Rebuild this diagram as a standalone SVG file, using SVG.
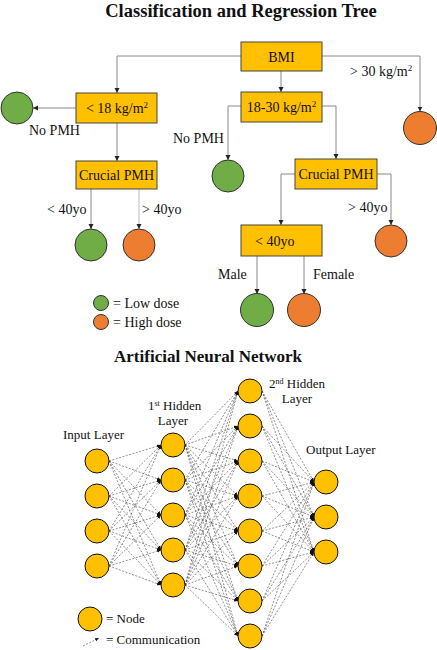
<svg xmlns="http://www.w3.org/2000/svg" width="437" height="650" viewBox="0 0 437 650">
<defs>
<style>
text{font-family:"Liberation Serif","Times New Roman",serif;fill:#111}
.title{font-size:18.5px;font-weight:bold;text-anchor:middle}
.t2{font-size:17px;font-weight:bold;text-anchor:middle}
.lbl{font-size:14px}
.al{font-size:13px}
.mid{text-anchor:middle}
.box{fill:#FFC000;stroke:#444;stroke-width:1}
.green{fill:#70AD47;stroke:#333;stroke-width:1}
.orange{fill:#ED7D31;stroke:#333;stroke-width:1}
.node{fill:#FFC000;stroke:#111;stroke-width:1}
.tc{fill:none;stroke:#888;stroke-width:1;marker-end:url(#ah)}
.ac line{stroke:#444;stroke-width:0.6;stroke-dasharray:2 1.5;marker-end:url(#sa)}
</style>
<marker id="ah" markerUnits="userSpaceOnUse" markerWidth="6" markerHeight="6" refX="5" refY="3" orient="auto"><path d="M0,0.5 L5,3 L0,5.5 z" fill="#222"/></marker>
<marker id="sa" markerUnits="userSpaceOnUse" markerWidth="5" markerHeight="5" refX="4" refY="2" orient="auto"><path d="M0,0.4 L4,2 L0,3.6 z" fill="#111"/></marker>
</defs>
<rect width="437" height="650" fill="#fff"/>
<text class="title" x="241" y="17">Classification and Regression Tree</text>

<g id="tree-connectors">
<path class="tc" d="M241,56 H117 V93"/>
<path class="tc" d="M281,71 V92"/>
<path class="tc" d="M322,56 H420 V111.5"/>
<path class="tc" d="M76,108 H33"/>
<path class="tc" d="M117,123 V161"/>
<path class="tc" d="M241,106 H228 V160"/>
<path class="tc" d="M322,106 H336 V159"/>
<path class="tc" d="M91,189 V229"/>
<path class="tc" d="M139,189 V229" style="stroke:#bbb"/>
<path class="tc" d="M295,174 H281 V225"/>
<path class="tc" d="M377,174 H391 V225"/>
<path class="tc" d="M257,256 V294"/>
<path class="tc" d="M304,256 V294"/>
</g>

<g id="bmi"><rect class="box" x="241" y="42" width="81" height="29"/><text class="lbl mid" x="281.5" y="61.5">BMI</text></g>
<g id="lt18"><rect class="box" x="76" y="93" width="81" height="30"/><text class="lbl mid" x="117" y="113">&lt; 18 kg/m<tspan dy="-5" font-size="9">2</tspan></text></g>
<g id="b1830"><rect class="box" x="241" y="92" width="81" height="30"/><text class="lbl mid" x="281.5" y="111.5">18-30 kg/m<tspan dy="-5" font-size="9">2</tspan></text></g>
<g id="gt30"><text class="lbl" x="350" y="76">&gt; 30 kg/m<tspan dy="-5" font-size="9">2</tspan></text><circle class="orange" cx="420" cy="128" r="16.5"/></g>
<g id="nopmh1"><circle class="green" cx="17" cy="108" r="16"/><text class="lbl" x="29" y="135">No PMH</text></g>
<g id="nopmh2"><circle class="green" cx="228" cy="176" r="16"/><text class="lbl" x="173" y="143">No PMH</text></g>
<g id="crucial1"><rect class="box" x="76" y="161" width="81" height="28"/><text class="lbl mid" x="116.5" y="180">Crucial PMH</text></g>
<g id="crucial2"><rect class="box" x="295" y="159" width="82" height="30"/><text class="lbl mid" x="336" y="179">Crucial PMH</text></g>
<g id="l1-lt40"><text class="lbl" x="47" y="214">&lt; 40yo</text><circle class="green" cx="91" cy="245" r="16"/></g>
<g id="l1-gt40"><text class="lbl" x="142" y="214">&gt; 40yo</text><circle class="orange" cx="139" cy="245" r="16"/></g>
<g id="lt40box"><rect class="box" x="241" y="225" width="81" height="31"/><text class="lbl" x="255" y="246">&lt; 40yo</text></g>
<g id="r-gt40"><text class="lbl" x="348" y="212">&gt; 40yo</text><circle class="orange" cx="391" cy="241" r="16"/></g>
<g id="male"><text class="lbl" x="218" y="279">Male</text><circle class="green" cx="257" cy="310" r="16.5"/></g>
<g id="female"><text class="lbl" x="313" y="279">Female</text><circle class="orange" cx="304" cy="310" r="16.5"/></g>
<g id="legend-tree">
<circle class="green" cx="101" cy="303" r="7.5"/><text class="lbl" x="113" y="308">= Low dose</text>
<circle class="orange" cx="101" cy="322" r="7.5"/><text class="lbl" x="113" y="327">= High dose</text>
</g>

<text class="t2" x="208" y="362">Artificial Neural Network</text>

<g id="ann-connectors" class="ac">
<line x1="109" y1="461" x2="161" y2="445"/><line x1="109" y1="461" x2="161" y2="480"/><line x1="109" y1="461" x2="161" y2="515"/><line x1="109" y1="461" x2="161" y2="550"/><line x1="109" y1="461" x2="161" y2="585"/>
<line x1="109" y1="496" x2="161" y2="445"/><line x1="109" y1="496" x2="161" y2="480"/><line x1="109" y1="496" x2="161" y2="515"/><line x1="109" y1="496" x2="161" y2="550"/><line x1="109" y1="496" x2="161" y2="585"/>
<line x1="109" y1="531" x2="161" y2="445"/><line x1="109" y1="531" x2="161" y2="480"/><line x1="109" y1="531" x2="161" y2="515"/><line x1="109" y1="531" x2="161" y2="550"/><line x1="109" y1="531" x2="161" y2="585"/>
<line x1="109" y1="566" x2="161" y2="445"/><line x1="109" y1="566" x2="161" y2="480"/><line x1="109" y1="566" x2="161" y2="515"/><line x1="109" y1="566" x2="161" y2="550"/><line x1="109" y1="566" x2="161" y2="585"/>

<line x1="185" y1="445" x2="238" y2="391"/><line x1="185" y1="445" x2="238" y2="426"/><line x1="185" y1="445" x2="238" y2="461"/><line x1="185" y1="445" x2="238" y2="496"/><line x1="185" y1="445" x2="238" y2="531"/><line x1="185" y1="445" x2="238" y2="566"/><line x1="185" y1="445" x2="238" y2="601"/><line x1="185" y1="445" x2="238" y2="636"/>
<line x1="185" y1="480" x2="238" y2="391"/><line x1="185" y1="480" x2="238" y2="426"/><line x1="185" y1="480" x2="238" y2="461"/><line x1="185" y1="480" x2="238" y2="496"/><line x1="185" y1="480" x2="238" y2="531"/><line x1="185" y1="480" x2="238" y2="566"/><line x1="185" y1="480" x2="238" y2="601"/><line x1="185" y1="480" x2="238" y2="636"/>
<line x1="185" y1="515" x2="238" y2="391"/><line x1="185" y1="515" x2="238" y2="426"/><line x1="185" y1="515" x2="238" y2="461"/><line x1="185" y1="515" x2="238" y2="496"/><line x1="185" y1="515" x2="238" y2="531"/><line x1="185" y1="515" x2="238" y2="566"/><line x1="185" y1="515" x2="238" y2="601"/><line x1="185" y1="515" x2="238" y2="636"/>
<line x1="185" y1="550" x2="238" y2="391"/><line x1="185" y1="550" x2="238" y2="426"/><line x1="185" y1="550" x2="238" y2="461"/><line x1="185" y1="550" x2="238" y2="496"/><line x1="185" y1="550" x2="238" y2="531"/><line x1="185" y1="550" x2="238" y2="566"/><line x1="185" y1="550" x2="238" y2="601"/><line x1="185" y1="550" x2="238" y2="636"/>
<line x1="185" y1="585" x2="238" y2="391"/><line x1="185" y1="585" x2="238" y2="426"/><line x1="185" y1="585" x2="238" y2="461"/><line x1="185" y1="585" x2="238" y2="496"/><line x1="185" y1="585" x2="238" y2="531"/><line x1="185" y1="585" x2="238" y2="566"/><line x1="185" y1="585" x2="238" y2="601"/><line x1="185" y1="585" x2="238" y2="636"/>

<line x1="262" y1="391" x2="314" y2="482"/><line x1="262" y1="391" x2="314" y2="517"/><line x1="262" y1="391" x2="314" y2="552"/>
<line x1="262" y1="426" x2="314" y2="482"/><line x1="262" y1="426" x2="314" y2="517"/><line x1="262" y1="426" x2="314" y2="552"/>
<line x1="262" y1="461" x2="314" y2="482"/><line x1="262" y1="461" x2="314" y2="517"/><line x1="262" y1="461" x2="314" y2="552"/>
<line x1="262" y1="496" x2="314" y2="482"/><line x1="262" y1="496" x2="314" y2="517"/><line x1="262" y1="496" x2="314" y2="552"/>
<line x1="262" y1="531" x2="314" y2="482"/><line x1="262" y1="531" x2="314" y2="517"/><line x1="262" y1="531" x2="314" y2="552"/>
<line x1="262" y1="566" x2="314" y2="482"/><line x1="262" y1="566" x2="314" y2="517"/><line x1="262" y1="566" x2="314" y2="552"/>
<line x1="262" y1="601" x2="314" y2="482"/><line x1="262" y1="601" x2="314" y2="517"/><line x1="262" y1="601" x2="314" y2="552"/>
<line x1="262" y1="636" x2="314" y2="482"/><line x1="262" y1="636" x2="314" y2="517"/><line x1="262" y1="636" x2="314" y2="552"/>
<line x1="83" y1="646" x2="99" y2="638"/>
</g>

<g id="input-layer">
<text class="al" x="63" y="439">Input Layer</text>
<circle class="node" cx="97" cy="461" r="12"/><circle class="node" cx="97" cy="496" r="12"/><circle class="node" cx="97" cy="531" r="12"/><circle class="node" cx="97" cy="566" r="12"/>
</g>
<g id="hidden1">
<text class="al" x="148" y="410">1<tspan dy="-4" font-size="8">st</tspan><tspan dy="4"> Hidden</tspan></text>
<text class="al mid" x="173" y="425">Layer</text>
<circle class="node" cx="173" cy="445" r="12"/><circle class="node" cx="173" cy="480" r="12"/><circle class="node" cx="173" cy="515" r="12"/><circle class="node" cx="173" cy="550" r="12"/><circle class="node" cx="173" cy="585" r="12"/>
</g>
<g id="hidden2">
<text class="al" x="269" y="388">2<tspan dy="-4" font-size="8">nd</tspan><tspan dy="4"> Hidden</tspan></text>
<text class="al mid" x="297" y="403">Layer</text>
<circle class="node" cx="250" cy="391" r="12"/><circle class="node" cx="250" cy="426" r="12"/><circle class="node" cx="250" cy="461" r="12"/><circle class="node" cx="250" cy="496" r="12"/><circle class="node" cx="250" cy="531" r="12"/><circle class="node" cx="250" cy="566" r="12"/><circle class="node" cx="250" cy="601" r="12"/><circle class="node" cx="250" cy="636" r="12"/>
</g>
<g id="output-layer">
<text class="al" x="306" y="454">Output Layer</text>
<circle class="node" cx="326" cy="482" r="12"/><circle class="node" cx="326" cy="517" r="12"/><circle class="node" cx="326" cy="552" r="12"/>
</g>
<g id="legend-ann">
<circle class="node" cx="90" cy="619" r="12"/><text class="al" x="106" y="623">= Node</text>
<text class="al" x="106" y="644">= Communication</text>
</g>
</svg>
